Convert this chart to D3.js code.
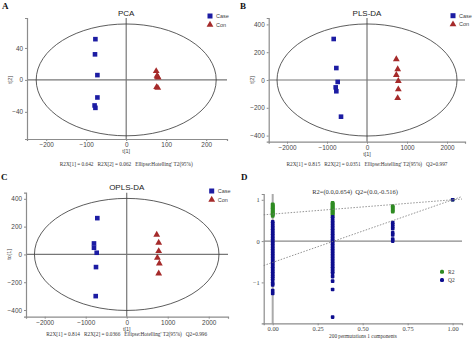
<!DOCTYPE html>
<html lang="en">
<head>
<meta charset="UTF-8">
<script src="https://d3js.org/d3.v7.min.js"></script>
<style>
  body { margin: 0; background: #fff; }
  svg { display: block; }
  text { white-space: pre; }
  .tick text { fill: #444; }
  .sans { font-family: "Liberation Sans", Arial, sans-serif; }
  .serif { font-family: "Liberation Serif", "Times New Roman", serif; }
</style>
</head>
<body>
<svg width="474" height="339"></svg>
<script>
// ---- data ----
const groups = ["Case", "Con"];

// PCA scores
const pcaCase = [[-77, 51], [-78, 32], [-72, 6], [-72, -22], [-79, -32], [-77, -35]];
const pcaCon = [[75, 11], [78, 4], [80, 3], [77, 5], [76, -9], [79, -10]];

// PLS-DA scores
const plsCase = [[-833, 295], [-767, 86], [-733, -14], [-783, -53], [-767, -81], [-650, -264]];
const plsCon = [[733, 149], [767, 77], [733, 36], [783, -7], [783, -67], [767, -130]];

// OPLS-DA scores
const oplsCase = [[-717, 261], [-798, 79], [-798, 48], [-732, 12], [-749, -91], [-756, -300]];
const oplsCon = [[732, 142], [780, 84], [780, 24], [748, -24], [796, -65], [780, -137]];

const scoreTitles = ["PCA", "PLS-DA", "OPLS-DA"];
const scoreSubs = [
  "R2X[1] = 0.642   R2X[2] = 0.062   Ellipse:Hotelling' T2(95%)",
  "R2X[1] = 0.815   R2X[2] = 0.0351   Ellipse:Hotelling' T2(95%)   Q2=0.997",
  "R2X[1] = 0.814   R2X[2] = 0.0366   Ellipse:Hotelling' T2(95%)   Q2=0.996"
];
const scoreYLabels = ["t[2]", "t[2]", "to[1]"];
const ellipseRadii = [[225, 70], [2250, 403], [2250, 403]];
const pcaTicksX = [-200, -100, 0, 100, 200], pcaTicksY = [-40, 0, 40];
const bigTicksX = [-2000, -1000, 0, 1000, 2000], bigTicksY = [-400, -200, 0, 200, 400];

// permutation test (x = fraction of labels kept)
const permX = [0, 0.333, 0.667, 1];
const r2At0 = [0.89, 0.87, 0.85, 0.83, 0.81, 0.79, 0.77, 0.75, 0.73, 0.71, 0.69, 0.67, 0.65, 0.63, 0.61];
const r2At1 = [0.93, 0.91, 0.89, 0.87, 0.85, 0.83, 0.81, 0.79, 0.77, 0.75, 0.73, 0.71, 0.69, 0.67, 0.65, 0.62];
const r2At2 = [0.85, 0.82, 0.79, 0.76, 0.73, 0.71];
const q2At0 = [0.47, 0.43, 0.38, 0.34, 0.3, 0.26, 0.22, 0.18, 0.14, 0.1, 0.06, 0.02, -0.02, -0.06, -0.1,
  -0.14, -0.18, -0.22, -0.26, -0.3, -0.34, -0.38, -0.42, -0.46, -0.5, -0.54, -0.58, -0.62, -0.66,
  -0.7, -0.74, -0.78, -0.82, -0.86, -0.9, -0.95, -1.02, -1.06, -1.2, -1.27];
const q2At1 = [0.59, 0.55, 0.5, 0.46, 0.42, 0.38, 0.34, 0.3, 0.26, 0.22, 0.18, 0.14, 0.1, 0.06, 0.02,
  -0.02, -0.06, -0.1, -0.14, -0.18, -0.22, -0.26, -0.3, -0.34, -0.38, -0.42, -0.46, -0.5, -0.54,
  -0.58, -0.62, -0.66, -0.7, -0.74, -0.78, -0.86, -0.97, -1.17, -1.84];
const q2At2 = [0.45, 0.4, 0.35, 0.3, 0.2, 0.15, 0.05, 0.0];
const r2Full = 1.0, q2Full = 1.0;
const r2Intercept = 0.654, q2Intercept = -0.516;
const permTicksX = [0, 0.25, 0.5, 0.75, 1], permTicksY = [-1, 0, 1];

// ---- drawing ----
const svg = d3.select("svg");
const caseCol = "#1c1ca3", conCol = "#a52a2a";
const axisGrey = "#8c8c8c";

function styleAxis(g, serif) {
  g.select(".domain").attr("stroke", axisGrey).attr("stroke-width", 1.2);
  g.selectAll(".tick line").attr("stroke", axisGrey);
  g.selectAll(".tick text").attr("font-size", 6.4)
    .attr("class", serif ? "serif" : "sans");
}

function scorePlot(i, ox, oy, cases, cons, xDom, yDom, xRng, yRng, ticksX, ticksY, titleY, legXY) {
  const g = svg.append("g").attr("transform", `translate(${ox},${oy})`);
  const x = d3.scaleLinear().domain(xDom).range(xRng);
  const y = d3.scaleLinear().domain(yDom).range(yRng);

  // zero lines
  g.append("line").attr("x1", xRng[0]).attr("x2", xRng[1]).attr("y1", y(0)).attr("y2", y(0))
    .attr("stroke", "#777").attr("stroke-width", 1.2);
  g.append("line").attr("x1", x(0)).attr("x2", x(0)).attr("y1", yRng[0]).attr("y2", yRng[1])
    .attr("stroke", "#777").attr("stroke-width", 1.2);

  // axes
  g.append("g").attr("transform", `translate(0,${yRng[0]})`)
    .call(d3.axisBottom(x).tickValues(ticksX).tickSize(2).tickPadding(1.5).tickFormat(d3.format("d")))
    .call(a => styleAxis(a, false));
  g.append("g").attr("transform", `translate(${xRng[0]},0)`)
    .call(d3.axisLeft(y).tickValues(ticksY).tickSize(2).tickPadding(2).tickFormat(d3.format("d")))
    .call(a => styleAxis(a, false));

  // ellipse
  const [rx, ry] = ellipseRadii[i];
  g.append("ellipse").attr("cx", x(0)).attr("cy", y(0))
    .attr("rx", x(rx) - x(0)).attr("ry", y(0) - y(ry))
    .attr("fill", "none").attr("stroke", "#333").attr("stroke-width", 0.8);

  // points
  g.selectAll(".case").data(cases).join("rect")
    .attr("x", d => x(d[0]) - 2.3).attr("y", d => y(d[1]) - 2.3)
    .attr("width", 4.6).attr("height", 4.6).attr("fill", caseCol);
  const tri = d3.symbol().type(d3.symbolTriangle).size(20);
  g.selectAll(".con").data(cons).join("path")
    .attr("d", tri).attr("transform", d => `translate(${x(d[0])},${y(d[1])})`)
    .attr("fill", conCol);

  // text
  g.append("text").attr("class", "sans").attr("x", x(0)).attr("y", titleY)
    .attr("text-anchor", "middle").attr("font-size", 8).attr("fill", "#222").text(scoreTitles[i]);
  g.append("text").attr("class", "sans").attr("x", x(0)).attr("y", yRng[0] + 14)
    .attr("text-anchor", "middle").attr("font-size", 5.5).attr("fill", "#444").text("t[1]");
  g.append("text").attr("class", "serif").attr("x", x(0)).attr("y", 166)
    .attr("text-anchor", "middle").attr("font-size", 5.3).attr("fill", "#333").text(scoreSubs[i]);
  g.append("text").attr("class", "sans")
    .attr("transform", `translate(${xRng[0] - 15},${y(0)}) rotate(-90)`)
    .attr("text-anchor", "middle").attr("font-size", 5.5).attr("fill", "#444").text(scoreYLabels[i]);

  // legend
  const [lx, ly] = legXY;
  g.append("rect").attr("x", lx - 2.5).attr("y", ly - 2.5).attr("width", 5).attr("height", 5).attr("fill", caseCol);
  g.append("path").attr("d", tri).attr("transform", `translate(${lx},${ly + 8.7})`).attr("fill", conCol);
  g.selectAll(".leg").data(groups).join("text").attr("class", "sans")
    .attr("x", lx + 6).attr("y", (d, k) => ly + 2 + k * 8.7)
    .attr("font-size", 5.5).attr("fill", "#444").text(d => d);
}

scorePlot(0, 0, 0, pcaCase, pcaCon, [-248, 252], [-74, 77.5], [27, 227], [139, 18],
  pcaTicksX, pcaTicksY, 16, [210, 16]);
scorePlot(1, 237, 0, plsCase, plsCon, [-2458, 2450], [-444, 446], [31.7, 228], [141.7, 18],
  bigTicksX, bigTicksY, 16, [216, 15.7]);
scorePlot(2, 0, 170, oplsCase, oplsCon, [-2456, 2470], [-448, 444], [26, 228], [146.7, 22.7],
  bigTicksX, bigTicksY, 20, [211.7, 21]);

// panel letters
const letters = [["A", 2, 9], ["B", 240, 9], ["C", 1, 180], ["D", 241, 180]];
svg.selectAll(".letter").data(letters).join("text").attr("class", "serif")
  .attr("x", d => d[1]).attr("y", d => d[2]).attr("font-size", 9).attr("font-weight", "bold")
  .attr("fill", "#111").text(d => d[0]);

// ---- permutation plot ----
(function () {
  const g = svg.append("g").attr("transform", "translate(237,170)");
  const xRng = [26.7, 225], yRng = [153.3, 24];
  const x = d3.scaleLinear().domain([-0.05, 1.052]).range(xRng);
  const y = d3.scaleLinear().domain([-1.99, 1.14]).range(yRng);
  const r2Col = "#2e8b22", q2Col = "#0d0d8f";

  g.append("line").attr("x1", xRng[0]).attr("x2", xRng[1]).attr("y1", y(0)).attr("y2", y(0))
    .attr("stroke", "#8a8a8a").attr("stroke-width", 1.3);
  g.append("line").attr("x1", x(0)).attr("x2", x(0)).attr("y1", yRng[0]).attr("y2", yRng[1])
    .attr("stroke", "#aaa").attr("stroke-width", 2);

  g.append("g").attr("transform", `translate(0,${yRng[0]})`)
    .call(d3.axisBottom(x).tickValues(permTicksX).tickSize(2).tickPadding(1.5).tickFormat(d3.format(".2f")))
    .call(a => styleAxis(a, true));
  g.append("g").attr("transform", `translate(${xRng[0]},0)`)
    .call(d3.axisLeft(y).tickValues(permTicksY).tickSize(2).tickPadding(2).tickFormat(d3.format("d")))
    .call(a => styleAxis(a, true));

  const r2Pts = [].concat(
    r2At0.map(v => [permX[0], v]), r2At1.map(v => [permX[1], v]),
    r2At2.map(v => [permX[2], v]), [[permX[3], r2Full]]);
  const q2Pts = [].concat(
    q2At0.map(v => [permX[0], v]), q2At1.map(v => [permX[1], v]),
    q2At2.map(v => [permX[2], v]), [[permX[3], q2Full]]);

  const drawPts = (pts, col) => g.append("g").selectAll("rect").data(pts).join("rect")
    .attr("x", d => x(d[0]) - 1.8).attr("y", d => y(d[1]) - 1.8)
    .attr("width", 3.6).attr("height", 3.6).attr("rx", 0.8).attr("fill", col);
  drawPts(r2Pts, r2Col);
  drawPts(q2Pts, q2Col);

  // regression lines through intercept and full model point
  const lineY = (b, full) => xv => b + (full - b) * xv;
  [[r2Intercept, r2Full], [q2Intercept, q2Full]].forEach(([b, f]) => {
    const fn = lineY(b, f);
    g.append("line").attr("x1", xRng[0]).attr("y1", y(fn(x.invert(xRng[0]))))
      .attr("x2", xRng[1]).attr("y2", y(fn(x.invert(xRng[1]))))
      .attr("stroke", "#777").attr("stroke-width", 0.8).attr("stroke-dasharray", "1.5,1.5");
  });

  g.append("text").attr("class", "serif").attr("x", 118).attr("y", 24)
    .attr("text-anchor", "middle").attr("font-size", 6.5).attr("fill", "#333")
    .text(`R2=(0.0,${r2Intercept})  Q2=(0.0,${q2Intercept})`);
  g.append("text").attr("class", "serif").attr("x", 126).attr("y", 167.5)
    .attr("text-anchor", "middle").attr("font-size", 5.3).attr("fill", "#333")
    .text("200 permutations 1 components");

  const leg = [["R2", r2Col], ["Q2", q2Col]];
  g.selectAll(".pleg").data(leg).join("rect")
    .attr("x", 203).attr("y", (d, k) => 99.7 + k * 8.3).attr("width", 4).attr("height", 4)
    .attr("rx", 1.5).attr("fill", d => d[1]);
  g.selectAll(".plegt").data(leg).join("text").attr("class", "serif")
    .attr("x", 211).attr("y", (d, k) => 103.5 + k * 8.3).attr("font-size", 5.5).attr("fill", "#333")
    .text(d => d[0]);
})();
</script>
</body>
</html>
